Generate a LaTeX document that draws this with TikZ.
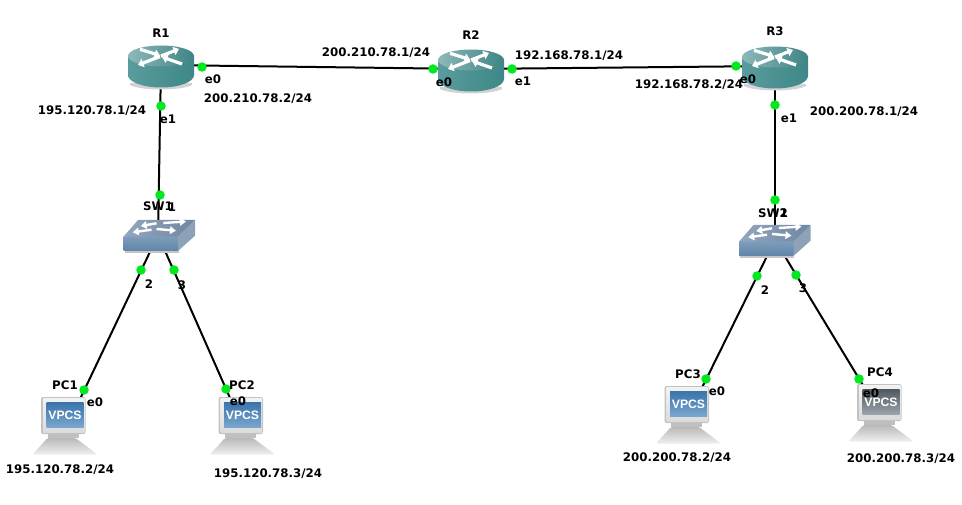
\documentclass[tikz,border=0pt]{standalone}
\usepackage{fontspec}
\setmainfont{DejaVu Sans}
\newfontfamily\vpcsfont{Liberation Sans}
\usetikzlibrary{arrows.meta}
\definecolor{lnk}{HTML}{00E81E}
\definecolor{rtopL}{HTML}{8DB8B8}
\definecolor{rtopR}{HTML}{3F8486}
\definecolor{rsideA}{HTML}{5A9C9D}
\definecolor{rsideB}{HTML}{3E8788}
\definecolor{swtopL}{HTML}{93A7BC}
\definecolor{swtopR}{HTML}{6F87A3}
\definecolor{swfrontA}{HTML}{7E9CBB}
\definecolor{swfrontB}{HTML}{5F85A8}
\definecolor{swside}{HTML}{8DA2B8}
\definecolor{scrA}{HTML}{3C74AC}
\definecolor{scrB}{HTML}{78A6CE}
\definecolor{greyA}{HTML}{525960}
\definecolor{greyB}{HTML}{9AA3AB}
\newcommand{\vpcsbody}[2]{%
    \shade[top color=gray!55,bottom color=gray!12,rounded corners=1.5pt]
      (-16,41) -- (12,41) -- (34,57.5) -- (-31,57.5) -- cycle;
    \fill[gray!50] (-16,37) rectangle (15,41);
    \fill[gray!48,rounded corners=2pt] (-22.5,0) rectangle (22,37);
    \shade[top color=gray!10,bottom color=gray!28] (-20.5,1.5) rectangle (21,35);
    \shade[top color=#1,bottom color=#2] (-17,5.5) rectangle (20,30);
    \node[inner sep=0pt,white,font=\vpcsfont\bfseries\fontsize{12.2}{14}\selectfont] at (1.5,18) {VPCS};
}
\tikzset{
  x=1pt,y=-1pt,
  dev/.style={inner sep=0pt,minimum size=0pt},
  lab/.style={inner sep=0pt,yshift=-0.5pt,font=\bfseries\fontsize{11.8}{14}\selectfont,text=black},
  linkline/.style={line width=2pt,black},
  dot/.style={circle,fill=lnk,inner sep=0pt,minimum size=9.5pt},
  warrow/.style={white,line width=3.2pt,-{Triangle[length=5.5pt,width=8.5pt]}},
  wswarrow/.style={white,line width=2.4pt,-{Triangle[length=6pt,width=7.5pt]}},
  router/.pic={
    \fill[gray!35] (-31,18) -- (31,18) -- (31,20) .. controls (20,26) and (-20,26) .. (-31,20) -- cycle;
    \shade[left color=rsideA,right color=rsideB]
      (-33,-9) -- (-33,10) .. controls (-33,17) and (-18,22.5) .. (0,22.5)
      .. controls (18,22.5) and (33,17) .. (33,10) -- (33,-9) -- cycle;
    \shade[left color=rtopL,right color=rtopR] (0,-9) ellipse [x radius=33,y radius=10.5];
    \draw[warrow] (-21,-15.7) -- (-1,-9.5);
    \draw[warrow] (0,-9) -- (18,-16);
    \draw[warrow] (-1,-8.5) -- (-23,0);
    \draw[warrow] (21,-1) -- (1,-8);
  },
  switchbox/.pic={
    \fill[gray!45] (-34,16) -- (20,16) -- (20,18) -- (-34,18) -- cycle;
    \shade[top color=swfrontA,bottom color=swfrontB] (-35,1.7) -- (19.5,1.7) -- (19.5,16) -- (-35,16) -- cycle;
    \fill[swside] (19.5,1.7) -- (36.5,-15) -- (36.5,0.7) -- (19.5,16) -- cycle;
    \shade[left color=swtopL,right color=swtopR] (-35,1.7) -- (-20.5,-15) -- (36.5,-15) -- (19.5,1.7) -- cycle;
    \draw[wswarrow] (-2,-11.7) -- (-17.8,-9);
    \draw[wswarrow] (4.8,-12) -- (27.5,-13.5);
    \draw[wswarrow] (-7,-5.3) -- (-25.8,-2.7);
    \draw[wswarrow] (-2,-6) -- (17.5,-4.3);
  },
  vpcs/.pic={\vpcsbody{scrA}{scrB}},
  vpcsgrey/.pic={\vpcsbody{greyA}{greyB}},
}
\begin{document}
\begin{tikzpicture}
\useasboundingbox[fill=white] (0,0) rectangle (962,505);
% device anchors
\node[dev] (R1) at (161,65) {};
\node[dev] (R2) at (471,69) {};
\node[dev] (R3) at (775,66) {};
\node[dev] (SW1) at (158,235) {};
\node[dev] (SW2) at (775,240) {};
\node[dev] (PC1) at (72,416) {};
\node[dev] (PC2) at (238,416) {};
\node[dev] (PC3) at (691,410) {};
\node[dev] (PC4) at (878,410) {};
% connectors
\draw[linkline] (R1) -- (R2);
\draw[linkline] (R2) -- (R3);
\draw[linkline] (R1) -- (SW1);
\draw[linkline] (R3) -- (SW2);
\draw[linkline] (SW1) -- (PC1);
\draw[linkline] (SW1) -- (PC2);
\draw[linkline] (SW2) -- (PC3);
\draw[linkline] (SW2) -- (PC4);
% devices
\pic at (161,65) {router};
\pic at (471,69) {router};
\pic at (775,66) {router};
\pic at (158.5,235) {switchbox};
\pic at (774,240) {switchbox};
\pic at (63.5,397) {vpcs};
\pic at (241,397) {vpcs};
\pic at (687,386) {vpcs};
\pic at (879.5,384) {vpcsgrey};
% link dots
\foreach \n/\p in {a/{202,67},b/{433,69},c/{512,69},d/{736,66},e/{161,106},f/{160,195},g/{775,105},h/{775,200},
  i/{141,270},j/{84,390},k/{174,270},l/{226,389},m/{757,276},n/{706,379},o/{796,275},p/{859,379}}
  \node[dot] (dot\n) at (\p) {};
% labels
\foreach \n/\p/\t in {
  lR1/{161,33}/R1, lR2/{471,35}/R2, lR3/{775,31}/R3,
  a1/{213,79}/e0, a2/{258,98}/200.210.78.2\slash 24, a3/{92,110}/195.120.78.1\slash 24, a4/{168,119}/e1,
  lS1/{158,206}/SW1, a5/{172,207}/1, a6/{149,284}/2, a7/{182,285}/3,
  lP1/{65,385}/PC1, a8/{95,402}/e0, a9/{60,469}/195.120.78.2\slash 24,
  lP2/{242,385}/PC2, b1/{238,401}/e0, b2/{268,473}/195.120.78.3\slash 24,
  b3/{376,52}/200.210.78.1\slash 24, b4/{444,82}/e0, b5/{523,81}/e1, b6/{569,55}/192.168.78.1\slash 24,
  b7/{748,79}/e0, b8/{689,84}/192.168.78.2\slash 24, b9/{789,118}/e1, c1/{864,111}/200.200.78.1\slash 24,
  lS2/{773,213}/SW2, c2/{784,213}/1, c3/{765,290}/2, c4/{803,288}/3,
  lP3/{688,374}/PC3, c5/{717,391}/e0, c6/{677,457}/200.200.78.2\slash 24,
  lP4/{880,372}/PC4, c7/{871,393}/e0, c8/{901,458}/200.200.78.3\slash 24}
  \node[lab] (\n) at (\p) {\t};
\end{tikzpicture}
\end{document}
